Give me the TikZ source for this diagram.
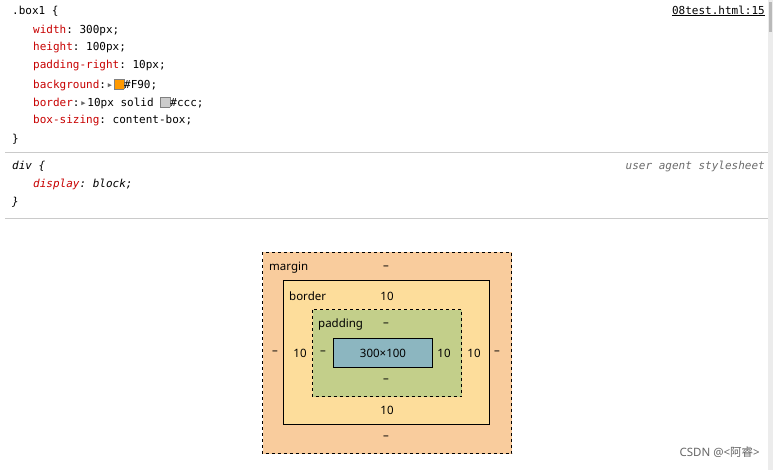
\documentclass[tikz,border=0pt]{standalone}
\usepackage{fontspec}
\setmainfont{Noto Sans}
\setmonofont{DejaVu Sans Mono}
\newfontfamily\cjk{Noto Sans CJK SC}
\definecolor{prop}{HTML}{C80000}
\definecolor{mfill}{HTML}{F9CC9D}
\definecolor{bfill}{HTML}{FDDD9B}
\definecolor{pfill}{HTML}{C3CF8A}
\definecolor{cfill}{HTML}{8CB6C0}
\definecolor{sep}{HTML}{CACACA}
\definecolor{swo}{HTML}{FF9900}
\newcommand{\swatch}[1]{{\setlength\fboxsep{0pt}\setlength\fboxrule{0.6pt}\fcolorbox{gray}{#1}{\rule{0pt}{9pt}\rule{9pt}{0pt}}}}
\newcommand{\trig}{\textcolor{gray!80!black}{\raisebox{1pt}{\fontsize{7}{8}\selectfont▶}}}
\begin{document}
\begin{tikzpicture}[x=1pt,y=-1pt,
  code/.style={anchor=west,inner sep=0,font=\ttfamily\fontsize{11}{12}\selectfont},
  lab/.style={inner sep=0,font=\fontsize{11.5}{13}\selectfont}]
\fill[white] (0,0) rectangle (773,470);
\useasboundingbox (0,0) rectangle (773,470);
\fill[gray!15] (768,0) rectangle (773,470);
\fill[gray!55] (769,2) rectangle (772,32);
% code
\node[code] (s1) at (12,11) {.box1 \{};
\node[code,anchor=east] (f1) at (765,11) {\underline{08test.html:15}};
\node[code] (l1) at (33,30) {\textcolor{prop}{width}: 300px;};
\node[code] (l2) at (33,48) {\textcolor{prop}{height}: 100px;};
\node[code] (l3) at (33,66) {\textcolor{prop}{padding-right}: 10px;};
\node[code] (l4) at (33,85) {\textcolor{prop}{background}:\,\trig\,\swatch{swo}\#F90;};
\node[code] (l5) at (33,103) {\textcolor{prop}{border}:\,\trig\,10px solid \swatch{gray!40}\#ccc;};
\node[code] (l6) at (33,121) {\textcolor{prop}{box-sizing}: content-box;};
\node[code] (c1) at (12,139) {\}};
\draw[sep] (5,152.5) -- (768,152.5);
\node[code] (s2) at (12,166) {\itshape div \{};
\node[code,anchor=east,text=gray!85!black] (f2) at (765,166) {\itshape user agent stylesheet};
\node[code] (l7) at (33,184) {\itshape\textcolor{prop}{display}: block;};
\node[code] (c2) at (12,202) {\itshape\}};
\draw[sep] (5,218.5) -- (768,218.5);
% box model
\draw[dashed,fill=mfill] (262.5,252.5) rectangle (511.5,453.5);
\draw[fill=bfill] (283.5,280.5) rectangle (489.5,424.5);
\draw[dashed,fill=pfill] (312.5,309.5) rectangle (461.5,396.5);
\draw[fill=cfill] (333.5,338.5) rectangle (432.5,367.5);
\node[lab,anchor=west] (m) at (269,268) {margin};
\node[lab] (mt) at (386,268) {–};
\node[lab,anchor=west] (b) at (289,296) {border};
\node[lab] (bt) at (387,296) {10};
\node[lab,anchor=west] (p) at (318,325) {padding};
\node[lab] (pt) at (386,325) {–};
\node[lab] (ml) at (275,353) {–};
\node[lab] (bl) at (300,353) {10};
\node[lab] (pl) at (323,353) {–};
\node[lab] (c) at (383,353) {300×100};
\node[lab] (pr) at (444,353) {10};
\node[lab] (br) at (474,353) {10};
\node[lab] (mr) at (497,353) {–};
\node[lab] (pb) at (386,381) {–};
\node[lab] (bb) at (387,410) {10};
\node[lab] (mb) at (386,438) {–};
\node[lab,anchor=east,text=gray!80!black] (w) at (760,452) {CSDN @<{\cjk 阿睿}>};
\end{tikzpicture}
\end{document}
